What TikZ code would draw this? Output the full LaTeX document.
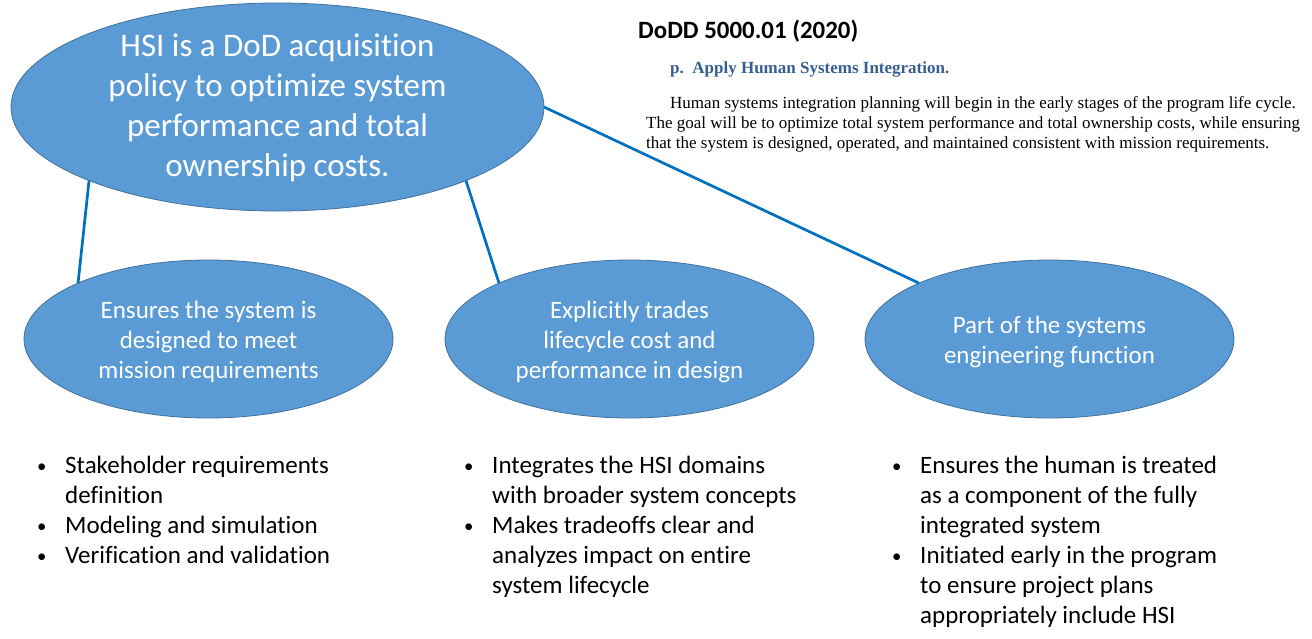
\documentclass[tikz,border=0pt]{standalone}
\usepackage{fontspec}
\setmainfont{Carlito}[Ligatures=NoCommon]
\newfontfamily\timesf{Liberation Serif}
\usetikzlibrary{shapes.geometric}
\definecolor{ellfill}{HTML}{5B9BD5}
\definecolor{elldraw}{HTML}{41719C}
\definecolor{connc}{HTML}{0070C0}
\definecolor{headc}{HTML}{365F91}
\tikzset{
  ell/.style={ellipse, fill=ellfill, draw=elldraw, line width=0.8pt, inner sep=0pt, outer sep=0pt},
  bigell/.style={ell, minimum width=533pt, minimum height=208pt},
  smallell/.style={ell, minimum width=369pt, minimum height=158pt},
  conn/.style={draw=connc, line width=2.7pt},
  bigtxt/.style={text=white, inner sep=0pt, anchor=base, font=\fontsize{33}{40}\selectfont},
  smalltxt/.style={text=white, inner sep=0pt, anchor=base, font=\fontsize{25}{30}\selectfont},
  bullettxt/.style={text=black, inner sep=0pt, anchor=base west, font=\fontsize{25}{30}\selectfont},
  quotetxt/.style={inner sep=0pt, anchor=base west, font=\timesf\fontsize{17}{20}\selectfont},
}
\newcommand{\bul}{\makebox[28pt][l]{\raisebox{1pt}{\scalebox{0.75}{\textbullet}}}}
\newcommand{\ind}{\hspace*{28pt}}
\begin{document}
\begin{tikzpicture}[x=1pt,y=-1pt]
\useasboundingbox (0,0) rectangle (1312,638);
% ellipses
\node[bigell] (hsi) at (277.5,107) {};
\node[smallell] (ens) at (208.5,339) {};
\node[smallell] (trade) at (629.5,339) {};
\node[smallell] (part) at (1049.5,339) {};
% connectors
\draw[conn] (hsi.south west) -- (ens.north west);
\draw[conn] (hsi.south east) -- (trade.north west);
\draw[conn] (hsi.east) -- (part.north west);
% ellipse texts
\node[bigtxt] (hsitxt) at (277.5,56) {\begin{tabular}[t]{@{}c@{}}HSI is a DoD acquisition\\policy to optimize system\\performance and total\\ownership costs.\end{tabular}};
\node[smalltxt] (enstxt) at (208.5,318) {\begin{tabular}[t]{@{}c@{}}Ensures the system is\\designed to meet\\mission requirements\end{tabular}};
\node[smalltxt] (tradetxt) at (629.5,318) {\begin{tabular}[t]{@{}c@{}}Explicitly trades\\lifecycle cost and\\performance in design\end{tabular}};
\node[smalltxt] (parttxt) at (1049.5,333) {\begin{tabular}[t]{@{}c@{}}Part of the systems\\engineering function\end{tabular}};
% bullets
\node[bullettxt] (b1) at (37,473) {\begin{tabular}[t]{@{}l@{}}\bul Stakeholder requirements\\\ind definition\\\bul Modeling and simulation\\\bul Verification and validation\end{tabular}};
\node[bullettxt] (b2) at (464,473) {\begin{tabular}[t]{@{}l@{}}\bul Integrates the HSI domains\\\ind with broader system concepts\\\bul Makes tradeoffs clear and\\\ind analyzes impact on entire\\\ind system lifecycle\end{tabular}};
\node[bullettxt] (b3) at (892,473) {\begin{tabular}[t]{@{}l@{}}\bul Ensures the human is treated\\\ind as a component of the fully\\\ind integrated system\\\bul Initiated early in the program\\\ind to ensure project plans\\\ind appropriately include HSI\end{tabular}};
% DoDD quote
\node[inner sep=0pt, anchor=base west, font=\bfseries\fontsize{24.9}{30}\selectfont] (title) at (638,38) {DoDD 5000.01 (2020)};
\node[quotetxt, text=headc, font=\timesf\bfseries\fontsize{17}{20}\selectfont] (qhead) at (670,73) {p.\ \ Apply Human Systems Integration.};
\node[quotetxt] (q1) at (670,108) {Human systems integration planning will begin in the early stages of the program life cycle.};
\node[quotetxt] (q2) at (646,128) {The goal will be to optimize total system performance and total ownership costs, while ensuring};
\node[quotetxt] (q3) at (646,148) {that the system is designed, operated, and maintained consistent with mission requirements.};
\end{tikzpicture}
\end{document}
